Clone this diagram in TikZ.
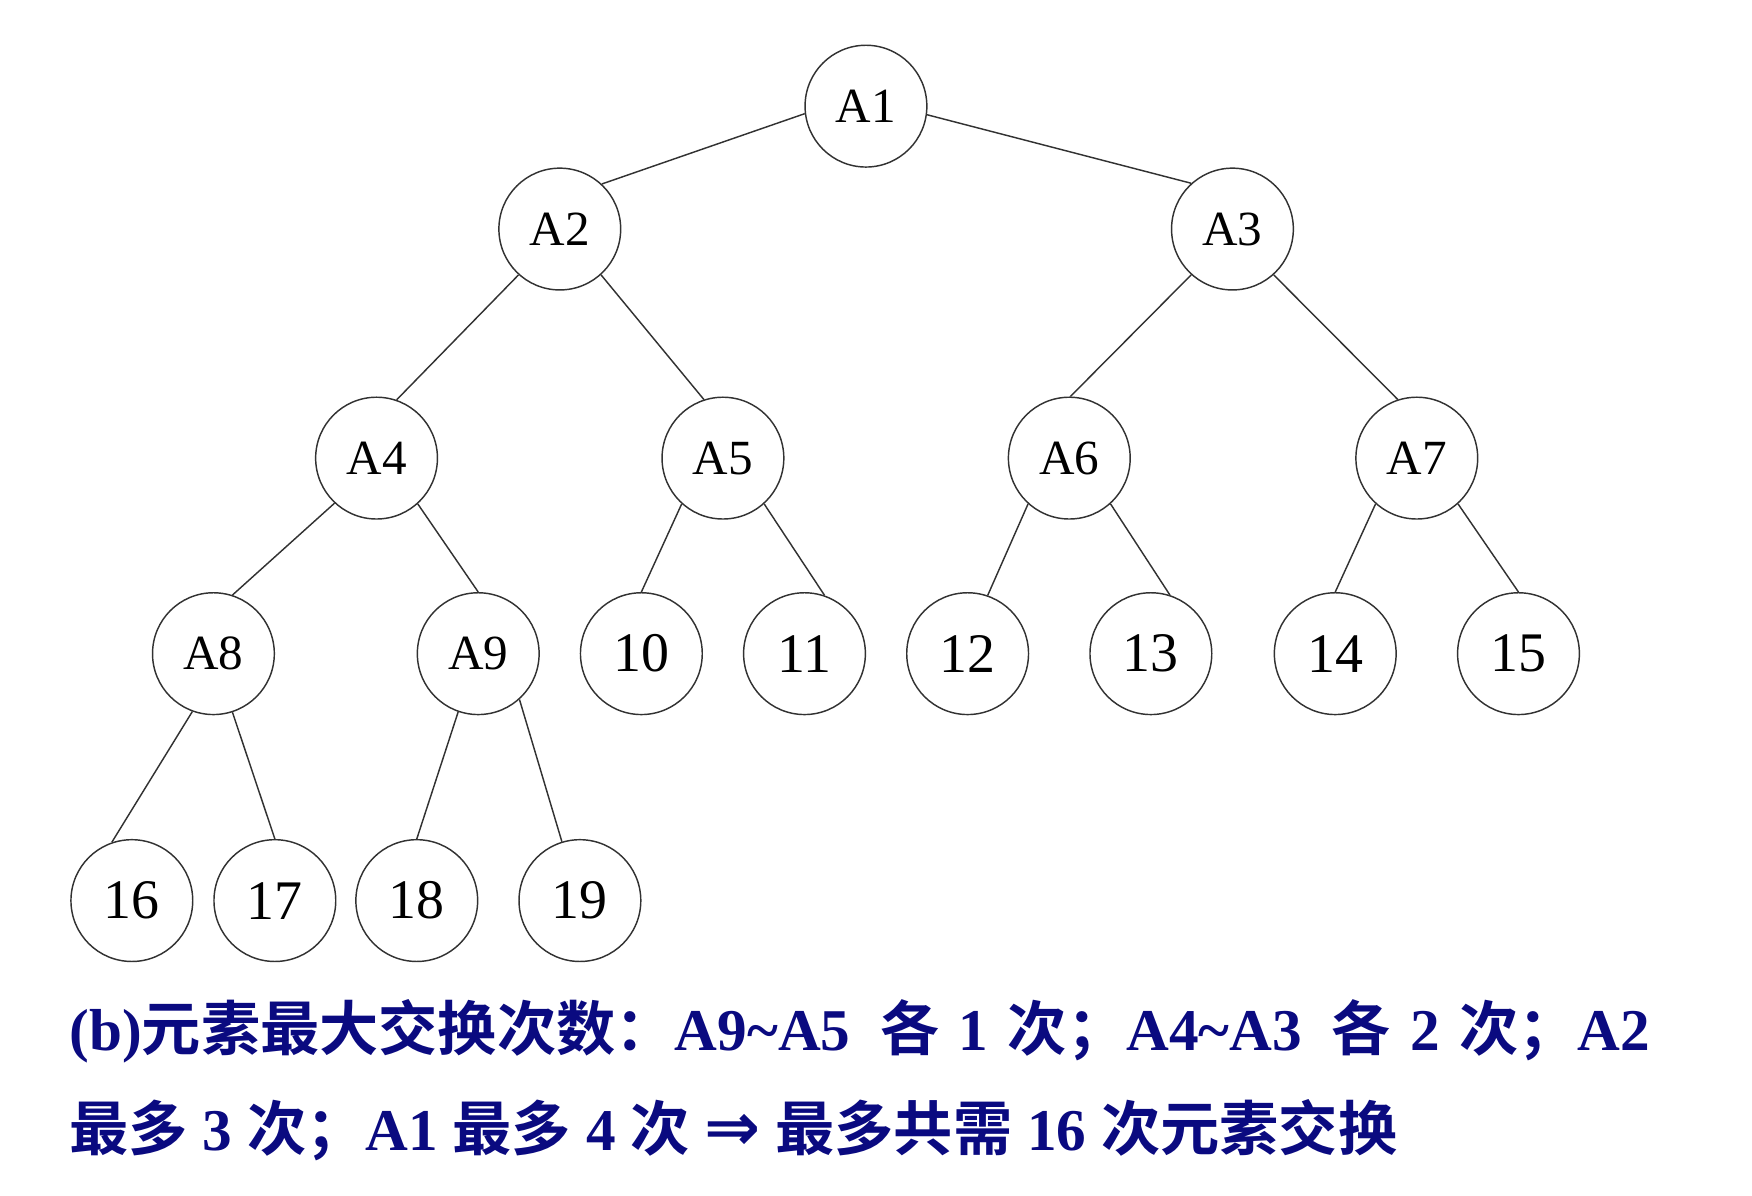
\documentclass[tikz,border=0pt]{standalone}
\usepackage{fontspec}
\setmainfont{Liberation Serif}
\newfontfamily\cjk{Noto Sans CJK SC}[BoldFont={Noto Sans CJK SC Bold}]
\newfontfamily\arrowfont{DejaVu Sans}
\definecolor{navy}{RGB}{10,10,128}
\definecolor{edgegray}{RGB}{50,50,50}
\newcommand{\wsp}{\hspace{0.33em}}
\begin{document}
\begin{tikzpicture}[x=1pt,y=-1pt,
  tnode/.style={circle,draw=edgegray,line width=1.3pt,minimum size=109pt,inner sep=0pt},
  alab/.style={tnode,font=\fontsize{44}{50}\selectfont},
  nlab/.style={tnode,font=\fontsize{50}{56}\selectfont},
  edge/.style={draw=edgegray,line width=1.3pt},
  caption/.style={anchor=base west,inner sep=0pt,text=navy,font=\fontsize{53}{60}\selectfont\bfseries}]
\useasboundingbox (0,0) rectangle (1568,1070);
\node[alab] (a1) at (775,95) {A1};
\node[alab] (a2) at (501,205) {A2};
\node[alab] (a3) at (1103,205) {A3};
\node[alab] (a4) at (337,410) {A4};
\node[alab] (a5) at (647,410) {A5};
\node[alab] (a6) at (957,410) {A6};
\node[alab] (a7) at (1268,410) {A7};
\node[alab] (a8) at (191,585) {A8};
\node[alab] (a9) at (428,585) {A9};
\node[nlab] (n10) at (574,585) {10};
\node[nlab] (n11) at (720,585) {11};
\node[nlab] (n12) at (866,585) {12};
\node[nlab] (n13) at (1030,585) {13};
\node[nlab] (n14) at (1195,585) {14};
\node[nlab] (n15) at (1359,585) {15};
\node[nlab] (n16) at (118,806) {16};
\node[nlab] (n17) at (246,806) {17};
\node[nlab] (n18) at (373,806) {18};
\node[nlab] (n19) at (519,806) {19};
\path[edge] (a1.187.3) -- (a2.47.9);
\path[edge] (a1.352.7) -- (a3.132.8);
\path[edge] (a2.228) -- (a4.71.6);
\path[edge] (a2.312.8) -- (a5.108.4);
\path[edge] (a3.228.7) -- (a6.89);
\path[edge] (a3.312.8) -- (a7.108.4);
\path[edge] (a4.227.9) -- (a8.72.8);
\path[edge] (a4.312.1) -- (a9.90);
\path[edge] (a5.228.6) -- (n10.90);
\path[edge] (a5.312) -- (n11.71.9);
\path[edge] (a6.228) -- (n12.71);
\path[edge] (a6.312) -- (n13.72);
\path[edge] (a7.228) -- (n14.90);
\path[edge] (a7.312) -- (n15.90);
\path[edge] (a8.250.9) -- (n16.109);
\path[edge] (a8.288.1) -- (n17.90);
\path[edge] (a9.251.8) -- (n18.90);
\path[edge] (a9.312.2) -- (n19.107.9);
\node[caption] (l1) at (62,940) {(b){\cjk 元素最大交换次数：}A9\textasciitilde A5\ \ {\cjk 各}\wsp 1\wsp{\cjk 次；}A4\textasciitilde A3\ \ {\cjk 各}\wsp 2\wsp{\cjk 次；}A2};
\node[caption] (l2) at (62,1030) {{\cjk 最多} 3 {\cjk 次；}A1 {\cjk 最多} 4 {\cjk 次} {\arrowfont\fontsize{60}{60}\selectfont ⇒} {\cjk 最多共需} 16 {\cjk 次元素交换}};
\end{tikzpicture}
\end{document}
